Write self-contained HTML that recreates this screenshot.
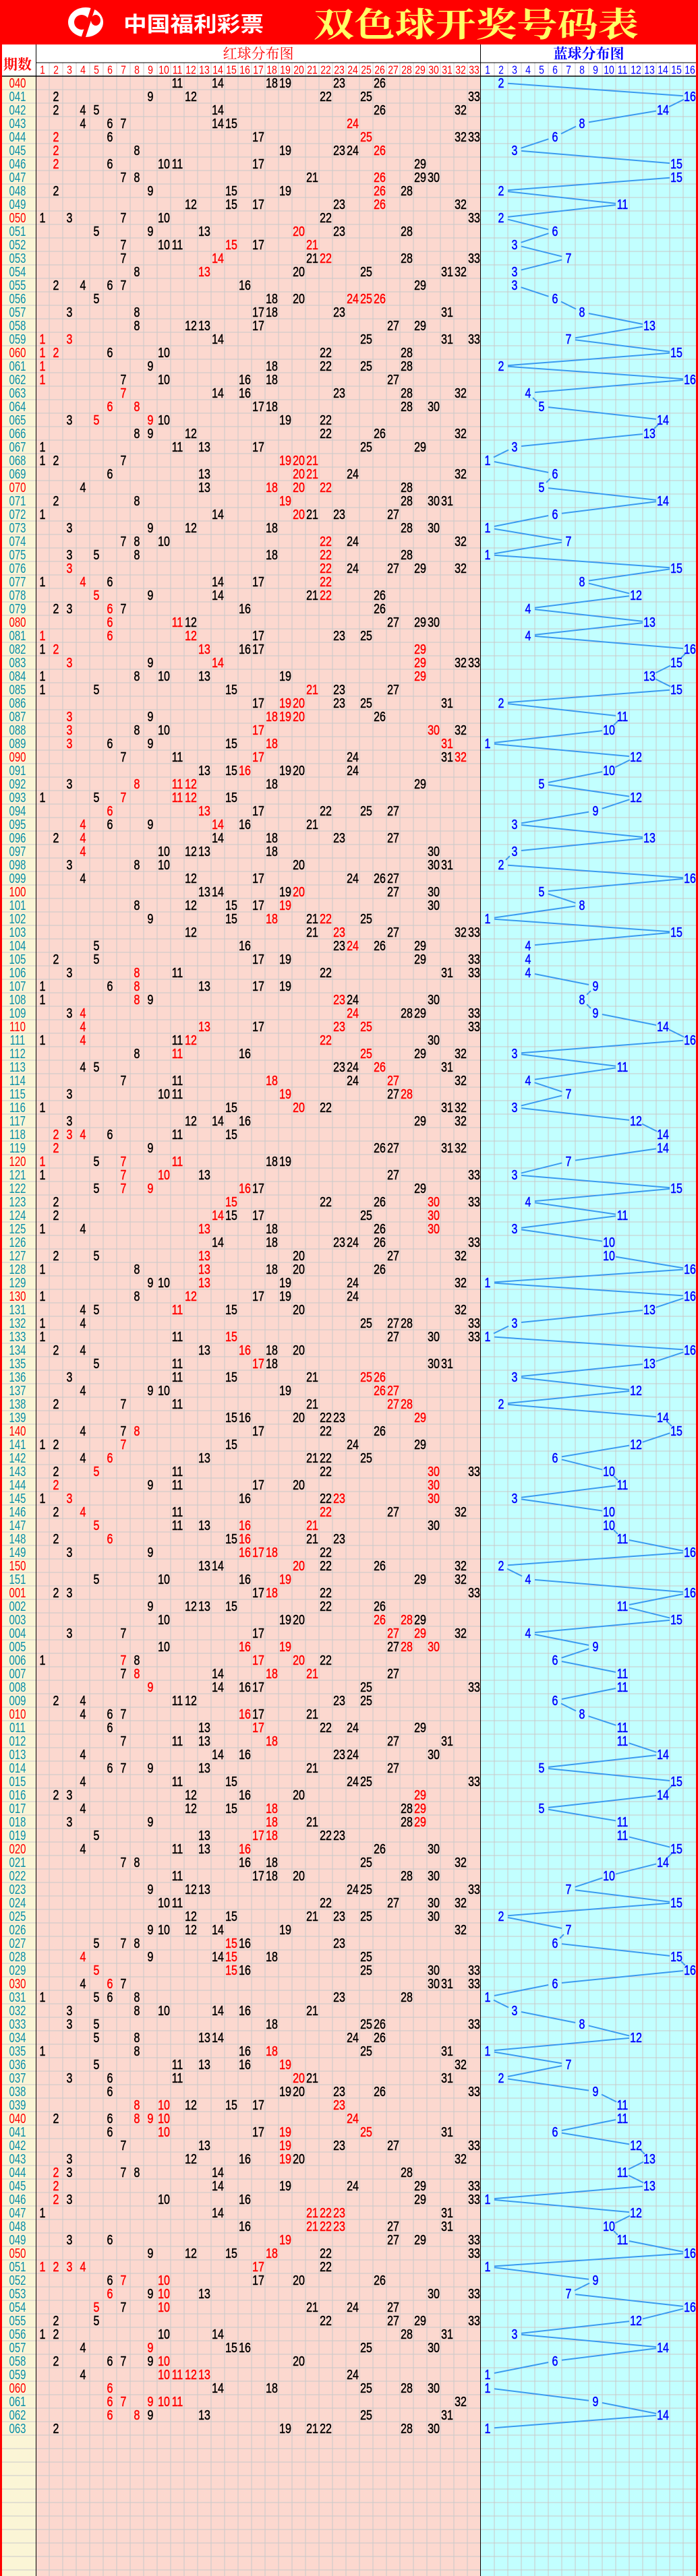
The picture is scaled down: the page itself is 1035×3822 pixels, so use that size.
<!DOCTYPE html>
<html><head><meta charset="utf-8"><title>双色球开奖号码表</title>
<style>
html,body{margin:0;padding:0;background:#fff;}
svg{display:block;}
text{font-family:"Liberation Sans","Noto Sans CJK SC",sans-serif;}
</style></head>
<body>
<svg id="chart" xmlns="http://www.w3.org/2000/svg" width="1035" height="3822" viewBox="0 0 1035 3822">
  <rect x="0" y="0" width="1035" height="3822" fill="#ffffff"/>
  <rect x="0" y="0" width="1035" height="66" fill="#ff0000"/>
  <g>
    <ellipse cx="127" cy="33" rx="26" ry="22" fill="#ffffff"/>
    <ellipse cx="121" cy="33" rx="11" ry="11" fill="#ff0000"/>
    <rect x="127" y="10" width="6" height="52" fill="#ff0000" transform="rotate(18 130 36)"/>
    <ellipse cx="142" cy="30" rx="7" ry="8" fill="#ff0000"/>
    <text x="183" y="47" font-size="31" font-weight="bold" fill="#ffffff" style="font-family:'Noto Sans CJK SC',sans-serif" textLength="208" lengthAdjust="spacingAndGlyphs">中国福利彩票</text>
  </g>
  <text x="465" y="54" font-size="50" fill="#ffff66" style="font-family:'Noto Serif CJK SC','Liberation Serif',serif;font-weight:bold" textLength="482" lengthAdjust="spacingAndGlyphs">双色球开奖号码表</text>
  <g id="grid"></g>
  <g id="heads"></g>
  <g id="labels"></g>
  <g id="reds"></g>
  <g id="bluelines"></g>
  <g id="blues"></g>
  <rect x="0" y="66" width="3" height="3756" fill="#ff0000"/>
  <rect x="1032" y="66" width="3" height="3756" fill="#ff0000"/>
</svg>
<script>
const startPeriods = [40, 1];
const redBalls = [
"11 14 18 19 23 26","2 9 12 22 25 33","2 4 5 14 26 32","4 6 7 14 15 *24","*2 6 17 *25 32 33",
"*2 8 19 23 24 *26","*2 6 10 11 17 29","7 8 21 *26 29 30","2 9 15 19 *26 28","12 15 17 23 *26 32",
"1 3 7 10 22 33","5 9 13 *20 23 28","7 10 11 *15 17 *21","7 *14 21 *22 28 33","8 *13 20 25 31 32",
"2 4 6 7 16 29","5 18 20 *24 *25 *26","3 8 17 18 23 31","8 12 13 17 27 29","*1 *3 14 25 31 33",
"*1 *2 6 10 22 28","*1 9 18 22 25 28","*1 7 10 16 18 27","*7 14 16 23 28 32","*6 *8 17 18 28 30",
"3 *5 *9 10 19 22","8 9 12 22 26 32","1 11 13 17 25 29","1 2 7 *19 *20 *21","6 13 *20 *21 24 32",
"4 13 *18 *20 *22 28","2 8 *19 28 30 31","1 14 *20 21 23 27","3 9 12 18 28 30","7 8 10 *22 24 32",
"3 5 8 18 *22 28","*3 *22 24 27 29 32","1 *4 6 14 17 *22","*5 9 14 21 *22 26","2 3 *6 7 16 26",
"*6 *11 12 27 29 30","*1 *6 *12 17 23 25","1 *2 *13 16 17 *29","*3 9 *14 *29 32 33","1 8 10 13 19 *29",
"1 5 15 *21 23 27","17 *19 *20 23 25 31","*3 9 *18 *19 *20 26","*3 8 10 *17 *30 32","*3 6 9 15 *18 *31",
"7 11 *17 24 31 *32","13 15 *16 19 20 24","3 *8 *11 *12 18 29","1 5 *7 *11 *12 15","*6 *13 17 22 25 27",
"*4 6 9 *14 16 21","2 *4 14 18 23 27","*4 10 12 13 18 30","3 8 10 20 30 31","4 12 17 24 26 27",
"13 14 19 *20 27 30","8 12 15 17 *19 30","9 15 *18 21 *22 25","12 21 *23 27 32 33","5 16 23 *24 26 29",
"2 5 17 19 29 33","3 *8 11 22 31 33","1 6 *8 13 17 19","1 *8 9 *23 24 30","3 *4 *24 28 29 33",
"*4 *13 17 *23 *25 33","1 *4 11 *12 *22 30","8 *11 16 *25 29 32","4 5 23 24 *26 31","7 11 *18 24 *27 32",
"3 10 11 *19 27 *28","1 15 *20 22 31 32","3 12 14 16 29 32","*2 *3 *4 6 11 15","*2 9 26 27 31 32",
"*1 5 *7 *11 18 19","1 *7 *10 13 27 33","5 *7 *9 *16 17 29","2 *15 22 26 *30 33","2 *14 15 17 25 *30",
"1 4 *13 18 26 *30","14 18 23 24 26 33","2 5 *13 20 27 32","1 8 *13 18 20 26","9 10 *13 19 24 32",
"1 8 *12 17 19 24","4 5 *11 15 20 32","1 4 25 27 28 33","1 11 *15 27 30 33","2 4 13 *16 18 20",
"5 11 *17 18 30 31","3 11 15 21 *25 *26","4 9 10 19 *26 *27","2 7 11 21 *27 *28","15 16 20 22 23 *29",
"4 7 *8 17 22 26","1 2 *7 15 24 29","4 *6 13 21 22 25","2 *5 11 22 *30 33","*2 9 11 17 20 *30",
"1 *3 16 22 *23 *30","2 *4 11 *22 27 32","*5 11 13 *16 *21 30","2 *6 15 *16 21 23","3 9 *16 *17 *18 22",
"13 14 *20 22 26 32","5 10 16 *19 29 32",
"2 3 17 *18 22 33","9 12 13 15 22 26","10 19 20 *26 *28 29","3 7 17 *27 *29 32","10 *16 *19 27 *28 *30",
"1 *7 8 *17 *20 22","7 *8 14 *18 *21 27","*9 14 16 17 25 33","2 4 11 12 23 25","4 6 7 *16 17 21",
"6 13 *17 22 24 29","7 11 13 *18 27 31","4 14 16 23 24 30","6 7 9 13 21 27","4 11 15 24 25 33",
"2 3 12 16 20 *29","4 12 15 *18 28 *29","3 9 *18 21 28 *29","5 13 *17 *18 22 23","4 11 13 *16 26 30",
"7 8 16 18 25 32","11 17 18 20 28 30","9 12 13 24 25 33","10 11 22 27 30 32","12 15 21 23 25 30",
"9 10 12 14 19 32","5 7 8 *15 16 23","*4 9 14 *15 18 25","*5 *15 16 25 30 33","4 *6 7 30 31 33",
"1 5 6 8 23 28","3 8 10 14 16 21","3 5 18 25 26 33","5 8 13 14 24 26","1 8 16 *18 25 31",
"5 11 13 16 *19 32","3 6 11 *20 21 31","6 19 20 23 26 33","*8 *10 12 15 17 *23","2 6 *8 *9 *10 *24",
"6 *10 17 *19 *25 31","7 13 *19 23 27 33","3 12 16 *19 20 32","*2 3 7 8 14 28","*2 14 19 24 29 33",
"*2 3 10 16 29 33","1 14 *21 *22 *23 31","16 *21 *22 *23 27 31","3 6 *19 27 29 33","9 12 15 *18 22 33",
"*1 *2 *3 *4 *17 22","6 *7 *10 17 20 26","*6 9 *10 13 30 33","*5 7 *10 21 24 27","2 5 22 27 29 33",
"1 2 10 14 28 31","4 *9 15 16 25 30","2 6 7 9 *10 20","4 *10 *11 *12 *13 24","*6 14 18 25 28 30",
"*6 *7 *9 *10 *11 32","*6 *8 9 13 25 31","2 19 21 22 28 30"
];
const blueBalls = [
2,16,14,8,6,3,15,15,2,11, 2,6,3,7,3,3,6,8,13,7, 15,2,16,4,5,14,13,3,1,6,
5,14,6,1,7,1,15,8,12,4, 13,4,16,15,13,15,2,11,10,1, 12,10,5,12,9,3,13,3,2,16,
5,8,1,15,4,4,4,9,8,9, 14,16,3,11,4,7,3,12,14,14, 7,3,15,4,11,3,10,10,16,1,
16,13,3,1,16,13,3,12,2,14, 15,12,6,10,11,3,10,10,11,16, 2,4,
16,11,15,4,9,6,11,11,6,8, 11,11,14,5,15,14,5,11,11,15, 14,10,7,15,2,7,6,15,16,6,
1,3,8,12,1,7,2,9,11,11, 6,12,13,11,13,1,12,10,11,16, 1,9,7,16,12,3,14,6,1,1,
9,14,1
];
const headerRedNums = Array.from({length:33},(_,i)=>i+1);
const headerBlueNums = Array.from({length:16},(_,i)=>i+1);

const periods = [];
for (let p = startPeriods[0]; p <= 151; p++) periods.push(String(p).padStart(3,'0'));
for (let p = startPeriods[1]; p <= 63; p++) periods.push(String(p).padStart(3,'0'));

const NS = 'http://www.w3.org/2000/svg';
const TOP = 113, ROW = 20, LABW = 53, REDX = 53, BLUEX = 713, CELL = 20;
const redX = n => REDX + CELL*(n-1) + CELL/2;
const blueX = n => BLUEX + CELL*(n-1) + CELL/2;
const rowY = i => TOP + ROW*i + ROW/2;

function mk(tag, attrs, parent){
  const e = document.createElementNS(NS, tag);
  for (const k in attrs) e.setAttribute(k, attrs[k]);
  parent.appendChild(e);
  return e;
}
function num(parent, x, y, s, color, size, sx, bold){
  const a = {x:0, y:0, 'text-anchor':'middle', 'font-size':size, fill:color,
    transform:'translate('+x+','+(y+size*0.36)+') scale('+sx+',1)'};
  if (bold){ a.stroke = color; a['stroke-width'] = 0.5; }
  const t = mk('text', a, parent);
  t.textContent = s;
  return t;
}

const grid = document.getElementById('grid');
const bgL = mk('rect',{x:0,y:113,width:LABW,height:3822-113,fill:'#fbf5d6'},grid);


const bgR = mk('rect',{x:REDX,y:113,width:660,height:3822-113,fill:'#fcd8cf'},grid);


const bgB = mk('rect',{x:BLUEX,y:113,width:322,height:3822-113,fill:'#c2ffff'},grid);


for (let k = 1; k < 33; k++) mk('line',{x1:REDX+CELL*k,y1:93,x2:REDX+CELL*k,y2:3822,stroke:'#c9c9c9','stroke-width':1},grid);
for (let k = 1; k < 16; k++) mk('line',{x1:BLUEX+CELL*k,y1:93,x2:BLUEX+CELL*k,y2:3822,stroke:'#c9c9c9','stroke-width':1},grid);
for (let y = TOP+ROW; y < 3822; y += ROW) mk('line',{x1:3,y1:y,x2:1032,y2:y,stroke:'#c9c9c9','stroke-width':1},grid);
mk('line',{x1:53,y1:93,x2:1032,y2:93,stroke:'#000','stroke-width':1},grid);
mk('line',{x1:3,y1:113,x2:1032,y2:113,stroke:'#000','stroke-width':1.5},grid);
mk('line',{x1:53.5,y1:66,x2:53.5,y2:3822,stroke:'#000','stroke-width':1},grid);
mk('line',{x1:712.5,y1:66,x2:712.5,y2:3822,stroke:'#000','stroke-width':1},grid);

const heads = document.getElementById('heads');
const h1 = mk('text',{x:26,y:103,'text-anchor':'middle','font-size':21,fill:'#ff0000',style:"font-family:'Noto Serif CJK SC',serif;font-weight:bold"},heads);
h1.textContent='期数';


const h2 = mk('text',{x:383,y:87,'text-anchor':'middle','font-size':21,fill:'#ff0000',style:"font-family:'Noto Serif CJK SC',serif"},heads);
h2.textContent='红球分布图';


const h3 = mk('text',{x:873,y:87,'text-anchor':'middle','font-size':21,fill:'#0000ff',style:"font-family:'Noto Serif CJK SC',serif;font-weight:bold"},heads);
h3.textContent='蓝球分布图';


headerRedNums.forEach(n=>{
  const t = num(heads, redX(n), 103, String(n), '#ff0000', 18, 0.78, false);
  
  
});
headerBlueNums.forEach(n=>{
  const t = num(heads, blueX(n), 103, String(n), '#0000ff', 18, 0.78, false);
  
  
});

const labels = document.getElementById('labels');
const reds = document.getElementById('reds');
const blues = document.getElementById('blues');
const blines = document.getElementById('bluelines');
periods.forEach((p,i)=>{
  const y = rowY(i);
  const isRed = p.endsWith('0') || p === '001';
  const t = num(labels, 26, y, p, isRed ? '#ff0000' : '#0a8fa8', 20, 0.75, false);
  
  
  (redBalls[i]||'').split(' ').forEach(tok=>{
    if(!tok) return;
    const hot = tok[0]==='*';
    const n = parseInt(hot ? tok.slice(1) : tok, 10);
    const r = num(reds, redX(n), y, String(n), hot ? '#ff0000' : '#000000', 20, 0.8, true);
    
    
  });
  const b = blueBalls[i];
  if (b !== undefined){
    const bt = num(blues, blueX(b), y, String(b), '#0000ff', 20, 0.8, true);
    
    
    if (i+1 < periods.length && blueBalls[i+1] !== undefined){
      const x1 = blueX(b), y1 = y, x2 = blueX(blueBalls[i+1]), y2 = rowY(i+1);
      const dx = x2-x1, dy = y2-y1, L = Math.hypot(dx,dy), g = 10;
      const ln = mk('line',{x1:x1+dx*g/L,y1:y1+dy*g/L,x2:x2-dx*g/L,y2:y2-dy*g/L,stroke:'#3a9af0','stroke-width':2},blines);
      
      
    }
  }
});
</script>
</body></html>
